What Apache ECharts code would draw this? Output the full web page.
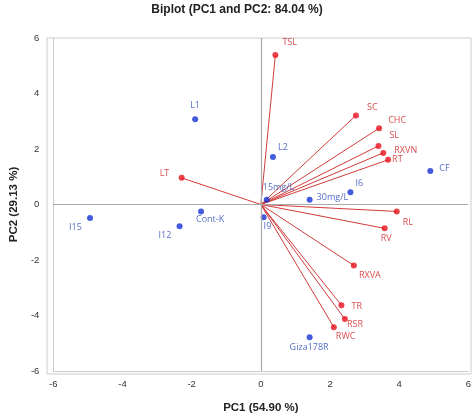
<!DOCTYPE html>
<html><head><meta charset="utf-8">
<script src="https://cdn.jsdelivr.net/npm/echarts@6/dist/echarts.min.js"></script>
<style>html,body{margin:0;background:#fff}#c{width:474px;height:419px}</style>
</head><body><div id="c"></div>
<script>
// variable loadings (red arrows)
const varNames = ['TSL','SC','CHC','SL','RXVN','RT','LT','RL','RV','RXVA','TR','RSR','RWC'];
const varX = [0.42, 2.75, 3.42, 3.40, 3.54, 3.68, -2.29, 3.93, 3.58, 2.69, 2.33, 2.43, 2.11];
const varY = [5.39, 3.21, 2.75, 2.11, 1.86, 1.61, 0.96, -0.25, -0.86, -2.20, -3.63, -4.13, -4.42];
// observations (blue points)
const obsNames = ['L1','L2','CF','15mg/L','30mg/L','I6','Cont-K','I15','I12','I9','Giza178R'];
const obsX = [-1.90, 0.35, 4.90, 0.17, 1.41, 2.59, -1.73, -4.94, -2.35, 0.08, 1.41];
const obsY = [3.07, 1.71, 1.21, 0.17, 0.17, 0.44, -0.25, -0.49, -0.78, -0.46, -4.78];

// label placement [dx, dy] in px
const varOff = {TSL:[-1,-12],SC:[3,-8],CHC:[1,-8],SL:[3,-11],RXVN:[3,-2],RT:[-4,0],LT:[-30,-4],
  RL:[-2,11],RV:[-12,10],RXVA:[-3,10],TR:[2,1],RSR:[-6,5],RWC:[-6,9]};
const obsOff = {'L1':[-13,-14],'L2':[-3,-10],'CF':[1,-2],'15mg/L':[-12,-12],'30mg/L':[-1,-2],'I6':[-3,-9],
  'Cont-K':[-13,8],'I15':[-29,9],'I12':[-29,9],'I9':[-8,9],'Giza178R':[-28,10]};

const red = '#e8121b', blue = '#1632d6', lblRed = '#d02020', lblBlue = '#2a49b5';
const series = [];
varNames.forEach((n, i) => {
  series.push({type:'line', data:[[0,0],[varX[i],varY[i]]], symbol:'none', silent:true,
    lineStyle:{color:'#d23a3a', width:1}, z:2});
});
series.push({type:'scatter', symbolSize:6, itemStyle:{color:red}, z:4,
  data: varNames.map((n,i)=>({value:[varX[i],varY[i]], name:n,
    label:{show:true, formatter:n, position:'right', offset:varOff[n], color:lblRed, fontSize:9, fontFamily:'Open Sans'}}))});
series.push({type:'scatter', symbolSize:6, itemStyle:{color:blue}, z:4,
  data: obsNames.map((n,i)=>({value:[obsX[i],obsY[i]], name:n,
    label:{show:true, formatter:n, position:'right', offset:obsOff[n], color:lblBlue, fontSize:9, fontFamily:'Open Sans'}})),
  markLine:{silent:true, symbol:'none', label:{show:false}, lineStyle:{color:'#aaa', type:'solid', width:1.2},
    data:[{xAxis:0},{yAxis:0}]}});

const chart = echarts.init(document.getElementById('c'));
chart.setOption({
  animation:false,
  title:{text:'Biplot (PC1 and PC2: 84.04 %)', left:'center', top:-1,
    textStyle:{fontSize:12, fontWeight:'bold', color:'#222', fontFamily:'Liberation Sans'}},
  grid:{left:47, right:3, top:38, bottom:45},
  xAxis:{type:'value', min:-6, max:6, interval:2, name:'PC1 (54.90 %)', nameLocation:'middle', nameGap:31,
    nameTextStyle:{fontSize:11.5, fontWeight:'bold', color:'#222', fontFamily:'Liberation Sans'},
    axisLine:{onZero:false, lineStyle:{color:'#ccc'}}, axisTick:{show:false},
    axisLabel:{fontSize:9.5, color:'#333'}, splitLine:{show:false}},
  yAxis:{type:'value', min:-6, max:6, interval:2, name:'PC2 (29.13 %)', nameLocation:'middle', nameGap:31,
    nameTextStyle:{fontSize:11.5, fontWeight:'bold', color:'#222', fontFamily:'Liberation Sans'},
    axisLine:{show:true, onZero:false, lineStyle:{color:'#ccc'}}, axisTick:{show:false},
    axisLabel:{fontSize:9.5, color:'#333', margin:14}, splitLine:{show:false}},
  series
});
// box edges (top/right)
chart.setOption({graphic:[{type:'rect', shape:{x:47, y:38, width:424, height:336}, style:{fill:'none', stroke:'#ccc', lineWidth:1}, silent:true}]});
</script></body></html>
